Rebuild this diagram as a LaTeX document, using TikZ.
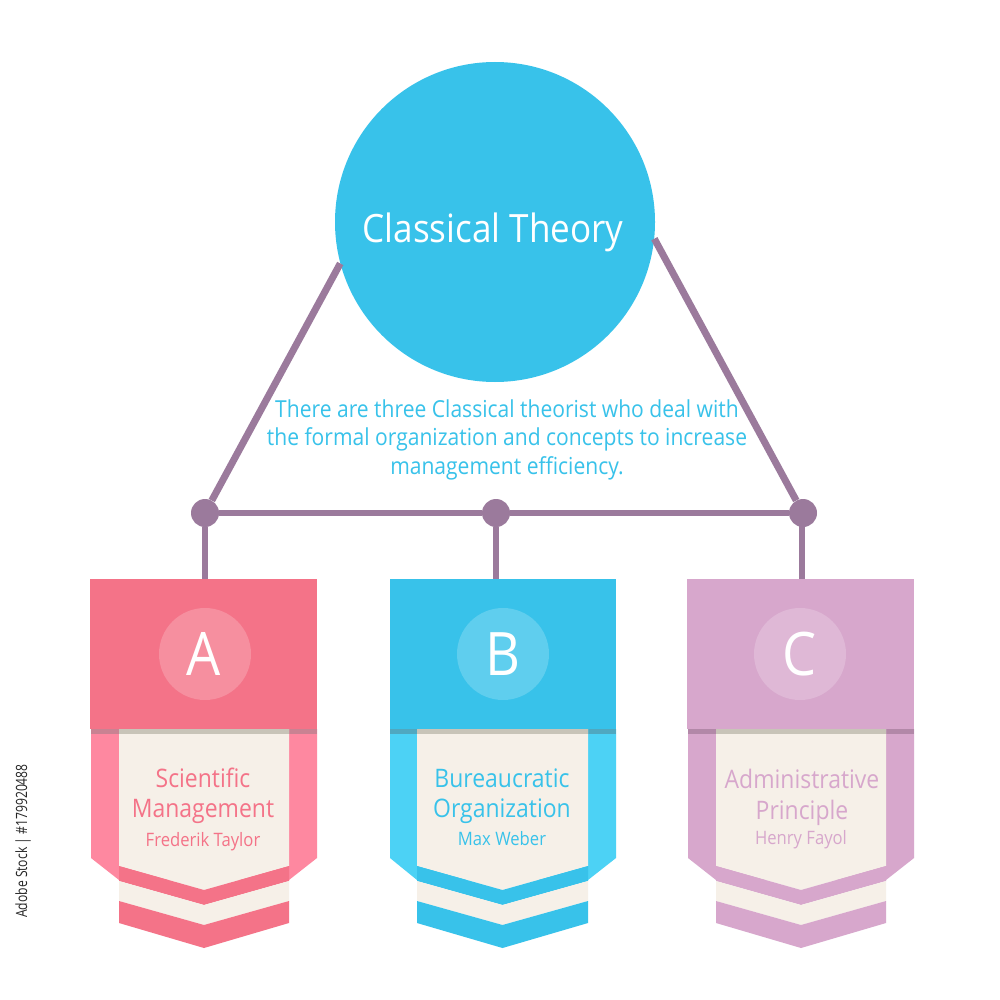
\documentclass[tikz,border=0pt]{standalone}
\usepackage{fontspec}
\setmainfont[FakeStretch=0.9]{Open Sans}
\definecolor{linec}{HTML}{9B7A9C}
\definecolor{cream}{HTML}{F6F0E8}
\definecolor{pinkm}{HTML}{F47388}
\definecolor{pinks}{HTML}{FE88A0}
\definecolor{pinkst}{HTML}{C98292}
\definecolor{bluem}{HTML}{38C2EA}
\definecolor{blues}{HTML}{4CD2F5}
\definecolor{bluest}{HTML}{4FA8C0}
\definecolor{purpm}{HTML}{D7A7CC}
\definecolor{purps}{HTML}{D7A7CC}
\definecolor{purpst}{HTML}{B288A8}
\definecolor{creamst}{HTML}{C8C4B8}
\tikzset{
  x=1pt,y=-1pt,
  conn/.style={draw=linec,line width=6pt},
  diag/.style={draw=linec,line width=7pt},
  dotn/.style={circle,fill=linec,minimum size=28pt,inner sep=0pt},
  boxn/.style={rectangle,inner sep=0pt,minimum width=#1,minimum height=150pt},
  badge/.style={circle,fill=white,fill opacity=.2,minimum size=92pt,inner sep=0pt},
  letter/.style={anchor=base,text=white,font=\fontsize{60}{60}\selectfont,inner sep=0pt},
  lab/.style={anchor=base,inner sep=0pt,font=\fontsize{25.5}{25.5}\selectfont},
  sublab/.style={anchor=base,inner sep=0pt,font=\fontsize{18.5}{18.5}\selectfont},
  desc/.style={anchor=base,inner sep=0pt,text=bluem,font=\fontsize{23.4}{23.4}\selectfont},
}
% #1 left, #2 right, #3 cream left, #4 cream right, #5 centre, #6 main, #7 side, #8 strip
\newcommand{\bannerbody}[8]{
  \fill[#7] (#1,729) -- (#2,729) -- (#2,858) -- (#4,880) -- (#3,880) -- (#1,858) -- cycle;
  \fill[#8] (#1,729) rectangle (#2,734);
  \fill[cream] (#3,729) -- (#4,729) -- (#4,866) -- (#5,890) -- (#3,866) -- cycle;
  \fill[creamst] (#3,729) rectangle (#4,734);
  \fill[#6] (#3,866) -- (#5,890) -- (#4,866) -- (#4,881) -- (#5,905) -- (#3,881) -- cycle;
  \fill[cream] (#3,881) -- (#5,905) -- (#4,881) -- (#4,901) -- (#5,925) -- (#3,901) -- cycle;
  \fill[#6] (#3,901) -- (#5,925) -- (#4,901) -- (#4,923) -- (#5,948) -- (#3,923) -- cycle;
}
\begin{document}
\begin{tikzpicture}
\useasboundingbox (0,0) rectangle (1000,1000);
\fill[white] (0,0) rectangle (1000,1000);

\node[circle,fill=bluem,minimum size=320pt,inner sep=0pt] (theory) at (495,222) {};
\node[anchor=base,text=white,inner sep=0pt,font=\fontsize{39}{39}\selectfont] (theorylab) at (493,243) {Classical Theory};

\node[dotn] (dotA) at (205,513) {};
\node[dotn] (dotB) at (496,513) {};
\node[dotn] (dotC) at (803,513) {};

\node[boxn=227pt,fill=pinkm,anchor=north west] (boxA) at (90,579) {};
\node[boxn=226pt,fill=bluem,anchor=north west] (boxB) at (390,579) {};
\node[boxn=227pt,fill=purpm,anchor=north west] (boxC) at (687,579) {};

\draw[diag] (theory.195.7) -- (dotA);
\draw[diag] (theory.-6.5) -- (dotC);
\draw[conn] (dotA) -- (dotB);
\draw[conn] (dotB) -- (dotC);
\draw[conn] (dotA) -- (dotA |- boxA.north);
\draw[conn] (dotB) -- (dotB |- boxB.north);
\draw[conn] (dotC.center) ++(-1,0) coordinate (dotCv) -- (dotCv |- boxC.north);

\node[desc] (d1) at (507,417) {There are three Classical theorist who deal with};
\node[desc] (d2) at (507,445) {the formal organization and concepts to increase};
\node[desc] (d3) at (507,474) {management efficiency.};

\bannerbody{91}{317}{119}{289}{204}{pinkm}{pinks}{pinkst}
\bannerbody{390}{616}{417}{588}{502.5}{bluem}{blues}{bluest}
\bannerbody{688}{914}{716}{886}{801}{purpm}{purps}{purpst}

\node[badge] (badgeA) at (205,654) {};
\node[badge] (badgeB) at (503,654) {};
\node[badge] (badgeC) at (800,654) {};
\node[letter] (letA) at (204,675) {A};
\node[letter] (letB) at (503,675) {B};
\node[letter] (letC) at (800,675) {C};

\node[lab,text=pinkm] (a1) at (203,787) {Scientific};
\node[lab,text=pinkm] (a2) at (203,817) {Management};
\node[sublab,text=pinkm] (a3) at (203,846) {Frederik Taylor};

\node[lab,text=bluem] (b1) at (502,787) {Bureaucratic};
\node[lab,text=bluem] (b2) at (502,817) {Organization};
\node[sublab,text=bluem] (b3) at (502,845) {Max Weber};

\node[lab,text=purpm] (c1) at (802,788) {Administrative};
\node[lab,text=purpm] (c2) at (802,819) {Principle};
\node[sublab,text=purpm] (c3) at (801,844) {Henry Fayol};

\node[rotate=90,anchor=west,inner sep=0pt,text=black!85,font=\fontsize{15.5}{15.5}\selectfont] (stock) at (23,918) {\scalebox{.87}[1]{Adobe Stock | \#179920488}};
\end{tikzpicture}
\end{document}
